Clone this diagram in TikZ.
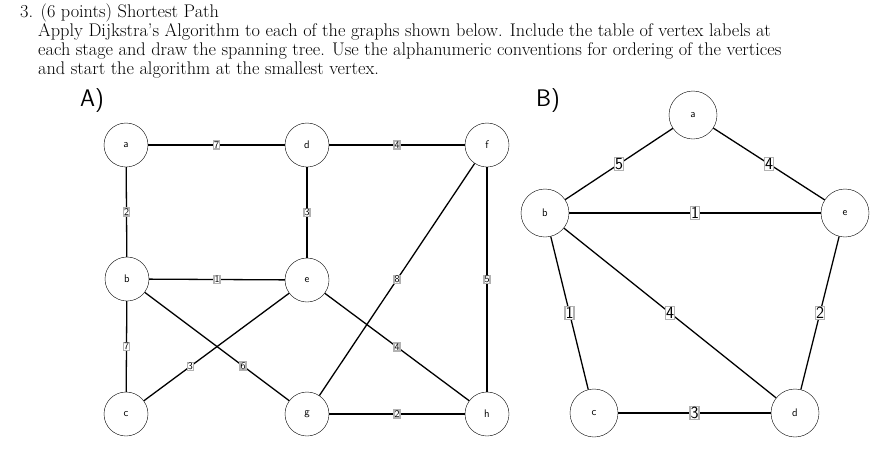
\documentclass[tikz,border=0pt]{standalone}
\begin{document}
\begin{tikzpicture}[x=1pt,y=-1pt,
  vtx/.style={draw,circle,minimum size=44pt,inner sep=0pt,font=\sffamily\fontsize{11}{12}\selectfont,fill=white},
  vtxb/.style={vtx,minimum size=48pt},
  edge/.style={line width=1.3pt},
  wa/.style={draw=black!30,fill=white,inner sep=0.6pt,font=\sffamily\fontsize{10}{11}\selectfont},
  wb/.style={draw=black!30,fill=white,inner sep=0.6pt,font=\sffamily\fontsize{17}{18}\selectfont},
  txt/.style={anchor=west,inner sep=0pt,font=\fontsize{18.3}{20}\selectfont}]
\useasboundingbox (0,0) rectangle (879,451);
\node[txt] (t0) at (20,13) {3. (6 points) Shortest Path};
\node[txt] (t1) at (38,32) {Apply Dijkstra's Algorithm to each of the graphs shown below. Include the table of vertex labels at};
\node[txt] (t2) at (38,51) {each stage and draw the spanning tree. Use the alphanumeric conventions for ordering of the vertices};
\node[txt] (t3) at (38,70) {and start the algorithm at the smallest vertex.};
\node[font=\sffamily\fontsize{24}{26}\selectfont] (la) at (92,101) {A)};
\node[font=\sffamily\fontsize{24}{26}\selectfont] (lb) at (548,101) {B)};
% graph A
\node[vtx] (a) at (126,145) {a};
\node[vtx] (d) at (307,145) {d};
\node[vtx] (f) at (487,145) {f};
\node[vtx] (b) at (127,279) {b};
\node[vtx] (e) at (307,280) {e};
\node[vtx] (c) at (126,414) {c};
\node[vtx] (g) at (307,414) {g};
\node[vtx] (h) at (487,414) {h};
\draw[edge] (a) -- node[wa]{7} (d);
\draw[edge] (d) -- node[wa]{4} (f);
\draw[edge] (a) -- node[wa]{2} (b);
\draw[edge] (d) -- node[wa]{3} (e);
\draw[edge] (b) -- node[wa]{1} (e);
\draw[edge] (b) -- node[wa]{7} (c);
\draw[edge] (c) -- node[wa,pos=0.32]{3} (e);
\draw[edge] (b) -- node[wa,pos=0.68]{6} (g);
\draw[edge] (g) -- node[wa]{8} (f);
\draw[edge] (e) -- node[wa]{4} (h);
\draw[edge] (f) -- node[wa]{5} (h);
\draw[edge] (g) -- node[wa]{2} (h);
% graph B
\node[vtxb] (A) at (693,115) {a};
\node[vtxb] (B) at (545,213) {b};
\node[vtxb] (E) at (845,213) {e};
\node[vtxb] (C) at (594,413) {c};
\node[vtxb] (D) at (795,413) {d};
\draw[edge] (A) -- node[wb]{5} (B);
\draw[edge] (A) -- node[wb]{4} (E);
\draw[edge] (B) -- node[wb]{1} (E);
\draw[edge] (B) -- node[wb]{1} (C);
\draw[edge] (B) -- node[wb]{4} (D);
\draw[edge] (E) -- node[wb]{2} (D);
\draw[edge] (C) -- node[wb]{3} (D);
\end{tikzpicture}
\end{document}
